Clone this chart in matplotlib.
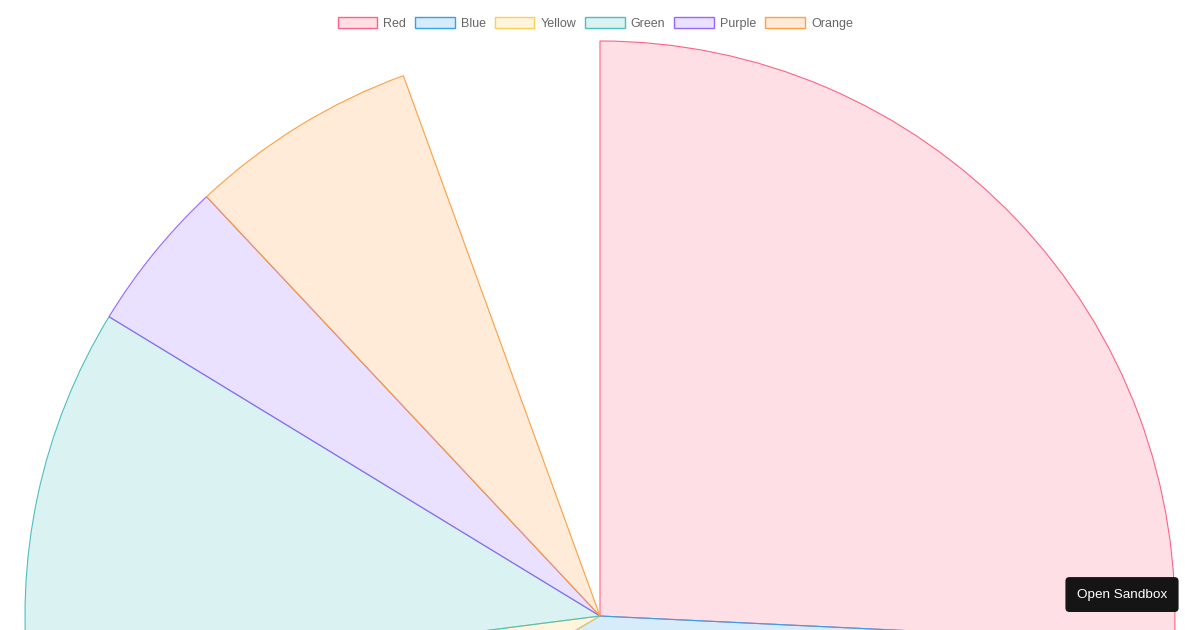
import matplotlib.pyplot as plt
from matplotlib.patches import Patch

labels = ["Red", "Blue", "Yellow", "Green", "Purple", "Orange"]
values = [12, 19, 3, 5, 2, 3]
border_colors = ["#ff6384", "#36a2eb", "#ffce56", "#4bc0c0", "#9966ff", "#ff9f40"]
circumference = 340  # degrees covered by the pie

plt.rcParams['font.family'] = ['Liberation Sans', 'DejaVu Sans']


def rgba(hex_color, alpha):
    h = hex_color.lstrip('#')
    return tuple(int(h[i:i + 2], 16) / 255 for i in (0, 2, 4)) + (alpha,)


def main():
    fig = plt.figure(figsize=(12, 6.3), dpi=100)
    ax = fig.add_axes([0, 0, 1, 1])

    total = sum(values)
    fracs = [v / total * circumference / 360 for v in values]
    fills = [rgba(c, 0.2) for c in border_colors]

    wedges, _ = ax.pie(fracs, colors=fills, startangle=90, counterclock=False,
                       normalize=False, radius=575, center=(600, 14),
                       frame=True,
                       wedgeprops={'linewidth': 0.8, 'antialiased': True})
    for w, c in zip(wedges, border_colors):
        w.set_edgecolor(c)

    ax.set_xlim(0, 1200)
    ax.set_ylim(0, 630)
    ax.set_aspect('equal')
    ax.axis('off')

    handles = [Patch(facecolor=rgba(c, 0.2), edgecolor=c, linewidth=1) for c in border_colors]
    fig.legend(handles, labels, loc='upper center', bbox_to_anchor=(0.496, 0.991),
               ncol=6, frameon=False, fontsize=9, labelcolor='#666666',
               handlelength=3.15, handleheight=0.95, handletextpad=0.5,
               columnspacing=0.72)

    fig.text(0.935, 0.0563, "Open Sandbox", color='white', fontsize=9.7,
             ha='center', va='center',
             bbox=dict(boxstyle='round,pad=0.85,rounding_size=0.3',
                       facecolor='#151515', edgecolor='none'))

    fig.savefig("out.png", dpi=100)


if __name__ == '__main__':
    main()
